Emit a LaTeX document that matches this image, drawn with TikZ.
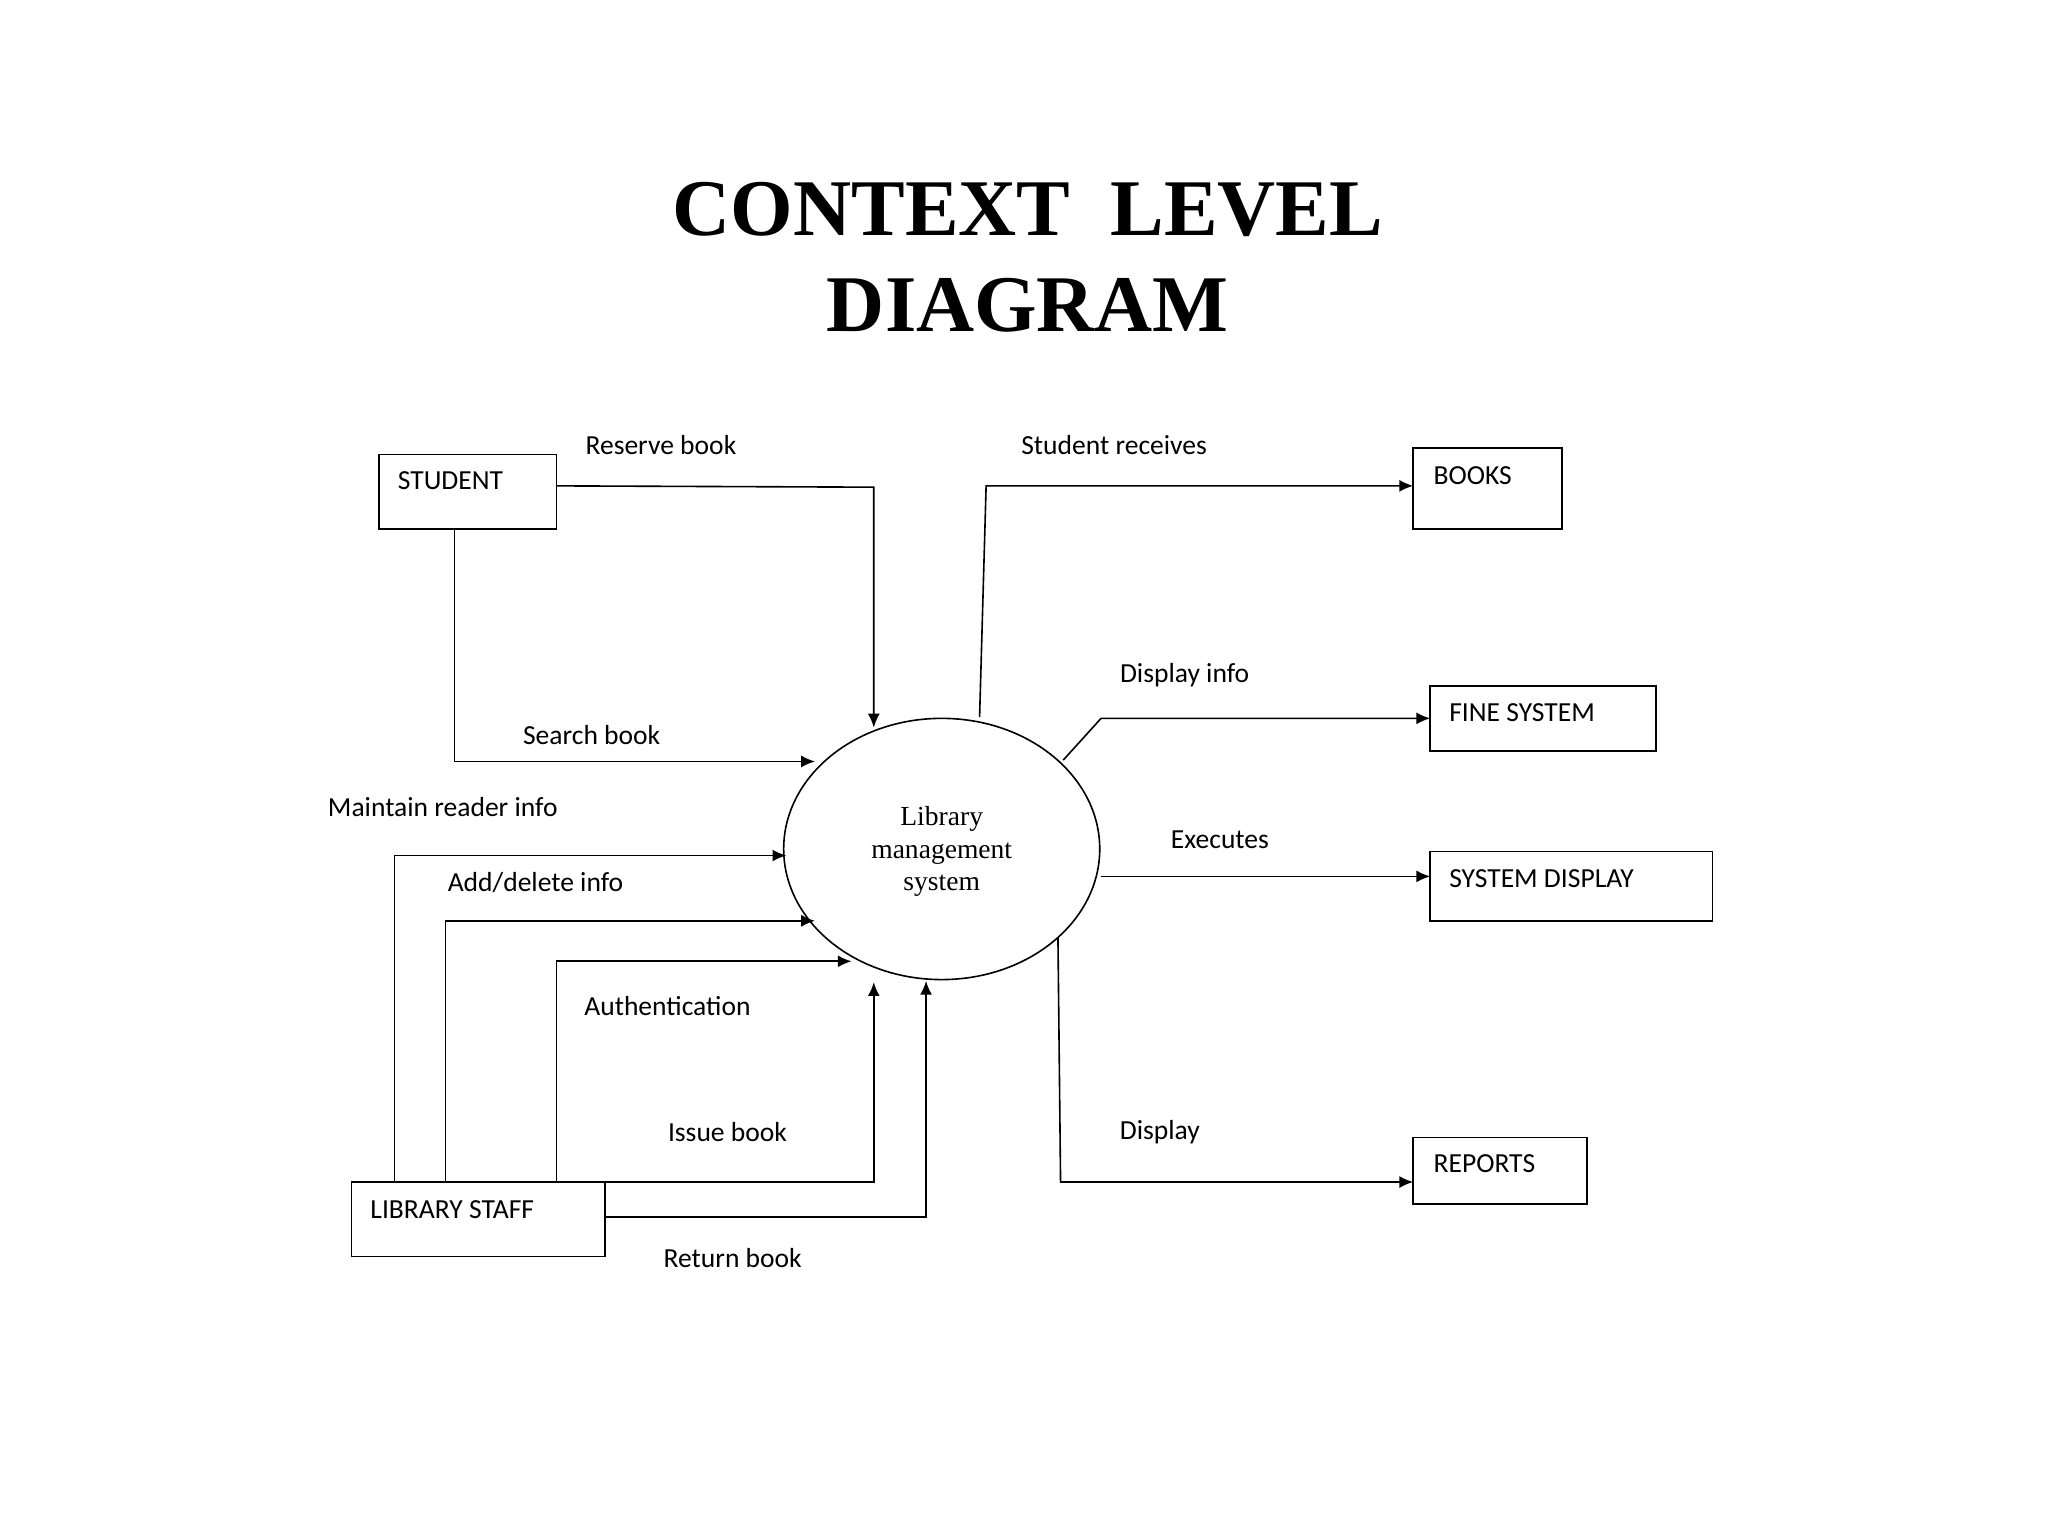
\documentclass[tikz,border=0pt]{standalone}
\usepackage{fontspec}
\setmainfont{Liberation Serif}
\newfontfamily\lblfont{Carlito}
\usetikzlibrary{arrows.meta,shapes.geometric}
\begin{document}
\begin{tikzpicture}[x=0.01cm,y=-0.01cm,line width=0.35pt,
  ent/.style={draw,rectangle,inner sep=0pt},
  etxt/.style={anchor=west,font=\lblfont\fontsize{6}{7}\selectfont,inner sep=0pt},
  lbl/.style={font=\lblfont\fontsize{6}{7}\selectfont,inner sep=0pt},
  arr/.style={-{Latex[length=3pt,width=2.6pt]}}]
\useasboundingbox (0,0) rectangle (1568,1176);
\node[font=\bfseries\fontsize{17.5}{21}\selectfont,align=center] (title) at (787,197) {CONTEXT\ \ LEVEL\\DIAGRAM};
% entities
\draw (290,348) rectangle (426,405); \node[etxt] (student) at (304,368) {STUDENT};
\draw (1082,343) rectangle (1196,405); \node[etxt] (books) at (1097,364) {BOOKS};
\draw (1095,525) rectangle (1268,575); \node[etxt] (fine) at (1109,546) {FINE SYSTEM};
\draw (1095,652) rectangle (1311,705); \node[etxt] (sysd) at (1109,673) {SYSTEM DISPLAY};
\draw (1082,871) rectangle (1215,922); \node[etxt] (rep) at (1097,891) {REPORTS};
\draw (269,905) rectangle (463,962); \node[etxt] (staff) at (283,926) {LIBRARY STAFF};
\draw (721,650) ellipse [x radius=121,y radius=100];
\node[align=center,font=\fontsize{6}{7.1}\selectfont] (lms) at (721,652) {Library\\management\\system};
% connectors
\coordinate (a1) at (426,372);
\draw[arr] (a1) -- (669,373) -- (669,557);
\draw[arr] (348,405) -- (348,583) -- (624,583);
\draw[arr] (750,549) -- (755,372) -- (1082,372);
\draw[arr] (814,582) -- (843,550) -- (1095,550);
\draw[arr] (843,671) -- (1095,671);
\draw[arr] (810,718) -- (812,905) -- (1082,905);
\draw[arr] (302,905) -- (302,655) -- (602,655);
\draw[arr] (341,905) -- (341,705) -- (624,705);
\draw[arr] (426,905) -- (426,736) -- (652,736);
\draw[arr] (463,905) -- (669,905) -- (669,752);
\draw[arr] (463,932) -- (709,932) -- (709,751);
% labels
\node[lbl] (l1) at (506,341) {Reserve book};
\node[lbl] (l2) at (853,341) {Student receives};
\node[lbl] (l3) at (907,517) {Display info};
\node[lbl] (l4) at (453,563) {Search book};
\node[lbl] (l5) at (339,618) {Maintain reader info};
\node[lbl] (l6) at (410,676) {Add/delete info};
\node[lbl] (l7) at (934,643) {Executes};
\node[lbl] (l8) at (511,770) {Authentication};
\node[lbl] (l9) at (557,867) {Issue book};
\node[lbl] (l10) at (888,867) {Display};
\node[lbl] (l11) at (561,963) {Return book};
\end{tikzpicture}
\end{document}
